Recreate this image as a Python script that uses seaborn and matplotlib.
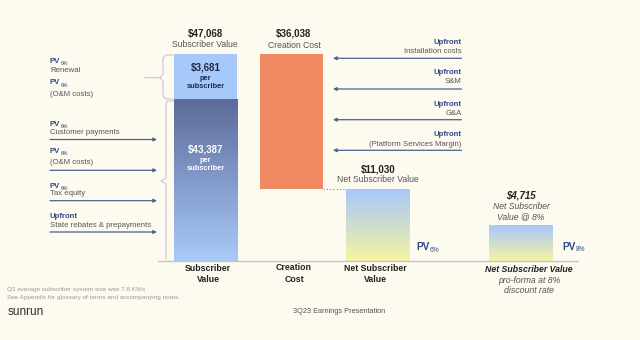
import numpy as np
import pandas as pd
import matplotlib
matplotlib.use("Agg")
import matplotlib.pyplot as plt
import matplotlib.transforms as mtrans
from matplotlib.colors import LinearSegmentedColormap
import seaborn as sns

# ---------------- data ----------------
categories = ["Subscriber Value", "Creation Cost", "Net Subscriber Value", "Net Subscriber Value @ 8%"]
label_values = [47068, 36038, 11030, 4715]
segment_names = ["Upfront + PV6% contracted", "PV6% renewal"]
segment_values = [43387, 3681]
# bar heights as drawn on the slide (the slide is not to scale), same $ units as the full bar
drawn_segments = [36768, 10300]
drawn_cost = 30697
drawn_net = [16371, 8186]
left_heads = ["PV", "PV", "PV", "PV", "PV", "Upfront"]
left_subs = ["6%", "6%", "6%", "6%", "6%", ""]
left_items = ["Renewal", "(O&M costs)", "Customer payments", "(O&M costs)", "Tax equity",
              "State rebates & prepayments"]
right_items = ["Installation costs", "S&M", "G&A", "(Platform Services Margin)"]
cat_labels = ["Subscriber\nValue", "Creation\nCost", "Net Subscriber\nValue"]

# ---------------- style ----------------
BG = "#FDFAF0"
BLUE = "#2F4B86"
ARROW = "#4A6292"
GRAY = "#555555"
DARK = "#222222"
x_pos = [0, 1, 2, 3.67]
bar_w = 0.74

sns.set_style("white")
plt.rcParams["font.family"] = ["Liberation Sans", "DejaVu Sans"]

fig = plt.figure(figsize=(6.4, 3.4), dpi=100, facecolor=BG)
ax = fig.add_axes([0, 0, 1, 1])
ax.set_facecolor(BG)
PX = mtrans.Affine2D().scale(1 / 640, -1 / 340).translate(0, 1) + fig.transFigure

df = pd.DataFrame({"pos": x_pos,
                   "h": [drawn_segments[0], drawn_cost, drawn_net[0], drawn_net[1]],
                   "cat": categories})
n0 = len(ax.patches)
sns.barplot(data=df, x="pos", y="h", hue="cat", hue_order=categories,
            palette=["#A8CAFA", "#F08A62", "#A8CAFA", "#A8CAFA"], native_scale=True,
            width=bar_w, dodge=False, orient="x", errorbar=None, legend=False,
            saturation=1, linewidth=0, ax=ax)
main = ax.patches[n0:]
n1 = len(ax.patches)
sns.barplot(x=[x_pos[0]], y=[drawn_segments[1]], native_scale=True, width=bar_w,
            color="#A7C9F9", saturation=1, orient="x", errorbar=None, linewidth=0, ax=ax)
top_seg = ax.patches[n1:][0]
top_seg.set_y(drawn_segments[0])

total = sum(drawn_segments)
bars = {}
for p in main:
    c = p.get_x() + p.get_width() / 2
    i = int(np.argmin([abs(c - xp) for xp in x_pos]))
    bars[i] = p
bars[1].set_y(total - drawn_cost)


def grad(patch, top, bottom):
    x0, w = patch.get_x(), patch.get_width()
    y0, h = patch.get_y(), patch.get_height()
    cmap = LinearSegmentedColormap.from_list("g", [bottom, top])
    arr = np.linspace(0, 1, 256).reshape(-1, 1)
    im = ax.imshow(arr, cmap=cmap, extent=[x0, x0 + w, y0, y0 + h], origin="lower",
                   aspect="auto", zorder=patch.get_zorder() + 0.1)
    im.set_clip_path(patch)


grad(bars[0], "#5C6A99", "#A8CAFA")
grad(bars[2], "#A6C8FA", "#F7F3A3")
grad(bars[3], "#A6C8FA", "#F7F3A3")

# dotted connector
ax.plot([x_pos[1] + bar_w / 2, x_pos[2] - bar_w / 2], [drawn_net[0]] * 2, ls=(0, (1, 2)),
        color="#888888", lw=0.8, zorder=3)

ax.set_xlim((0 - 205.5) / 86, (640 - 205.5) / 86)
ax.set_ylim(-(340 - 261) * 227.4, 261 * 227.4)
ax.axis("off")

# baseline
ax.plot([158, 578], [261, 261], color="#C4C4C4", lw=1.0, transform=PX, zorder=5)


def T(x, y, s, size=6.2, color=GRAY, ha="center", weight="normal", style="normal", **kw):
    return fig.text(x, y, s, transform=PX, ha=ha, va="center", fontsize=size, color=color,
                    fontweight=weight, fontstyle=style, **kw)


def money(v):
    return "${:,}".format(v)


# headers
T(205, 33.5, money(label_values[0]), 7, DARK, weight="bold")
T(205, 44.5, categories[0], 6.2)
T(294, 33.5, money(label_values[1]), 7, DARK, weight="bold")
T(294, 45, categories[1], 6.2)
T(378, 169, money(label_values[2]), 7, DARK, weight="bold")
T(378, 180, categories[2], 6.2)
T(521, 195, money(label_values[3]), 7, DARK, weight="bold", style="italic")
T(521, 206.5, "Net Subscriber", 6.2, style="italic")
T(521, 216.5, "Value @ 8%", 6.2, style="italic")

# inside bar 1
T(205.5, 68, money(segment_values[1]), 7, "#1E2A48", weight="bold")
T(205.5, 78.5, "per", 5.4, "#1E2A48", weight="bold")
T(205.5, 87, "subscriber", 5.4, "#1E2A48", weight="bold")
T(205.5, 149, money(segment_values[0]), 7, "white", weight="bold")
T(205.5, 160, "per", 5.4, "white", weight="bold")
T(205.5, 168.5, "subscriber", 5.4, "white", weight="bold")


def pv(x, y, sub, size, subsize):
    T(x, y, "PV", size, BLUE, ha="left", weight="bold")
    w = 1.334 * size * 100 / 72
    T(x + w + 0.3, y + size * 0.42, sub, subsize, BLUE, ha="left")


# left labels
left_y = [(61.5, 71), (83, 94), (124, 132.7), (151.5, 163), (186, 193.3), (216, 225.3)]
arrow_y = [None, None, 139.5, 170.3, 200.7, 232]
for (yh, yt), head, sub, item, ay in zip(left_y, left_heads, left_subs, left_items, arrow_y):
    if head == "PV":
        pv(50, yh, sub, 5.6, 3.8)
    else:
        T(50, yh, head, 5.6, BLUE, ha="left", weight="bold")
    T(50, yt, item, 5.6, GRAY, ha="left")
    if ay is not None:
        ax.annotate("", xy=(157, ay), xytext=(50, ay), xycoords=PX, textcoords=PX,
                    arrowprops=dict(arrowstyle="-|>", color=ARROW, lw=0.9,
                                    mutation_scale=5, shrinkA=0, shrinkB=0))

# right labels
right_y = [(42.3, 51.3, 58.3), (72.7, 81.7, 89), (104, 113.3, 119.7), (135, 144, 150.3)]
for (yh, yt, ay), item in zip(right_y, right_items):
    T(461.5, yh, "Upfront", 5.6, BLUE, ha="right", weight="bold")
    T(461.5, yt, item, 5.6, GRAY, ha="right")
    ax.annotate("", xy=(333, ay), xytext=(461.5, ay), xycoords=PX, textcoords=PX,
                arrowprops=dict(arrowstyle="-|>", color=ARROW, lw=0.9,
                                mutation_scale=5, shrinkA=0, shrinkB=0))

# brackets
bc = "#C9C9C9"
ax.plot([173, 166, 163, 163, 160, 144], [55, 55, 58, 74.5, 77.7, 77.7], color=bc, lw=0.8,
        transform=PX)
ax.plot([160, 163, 163, 166, 173], [77.7, 81, 96, 99, 99], color=bc, lw=0.8, transform=PX)
ax.plot([173, 168, 166, 166, 161, 166, 166], [101, 101, 103, 178, 181, 184, 259], color=bc,
        lw=0.8, transform=PX)

# PV near net bars
pv(416, 247.5, "6%", 7.2, 4.8)
pv(562, 246.7, "8%", 7.2, 4.8)

# category labels
T(208, 268.3, "Subscriber", 6.3, DARK, weight="bold")
T(208, 279.3, "Value", 6.3, DARK, weight="bold")
T(294, 268, "Creation", 6.3, DARK, weight="bold")
T(294, 279, "Cost", 6.3, DARK, weight="bold")
T(375.5, 268.3, "Net Subscriber", 6.3, DARK, weight="bold")
T(375.5, 279.3, "Value", 6.3, DARK, weight="bold")
T(529, 270, "Net Subscriber Value", 6.3, DARK, weight="bold", style="italic")
T(529, 280.3, "pro-forma at 8%", 6.3, GRAY, style="italic")
T(529, 290.5, "discount rate", 6.3, GRAY, style="italic")

# footer
T(7, 290, "Q3 average subscriber system size was 7.8 KWs", 4.6, "#9A9A9A", ha="left")
T(7, 297.7, "See Appendix for glossary of terms and accompanying notes.", 4.6, "#9A9A9A",
  ha="left")
T(8, 312, "sunrun", 8.5, "#2A2A2A", ha="left")
T(339, 311.7, "3Q23 Earnings Presentation", 5.3, GRAY)

fig.savefig("out.png", dpi=100, facecolor=BG)
